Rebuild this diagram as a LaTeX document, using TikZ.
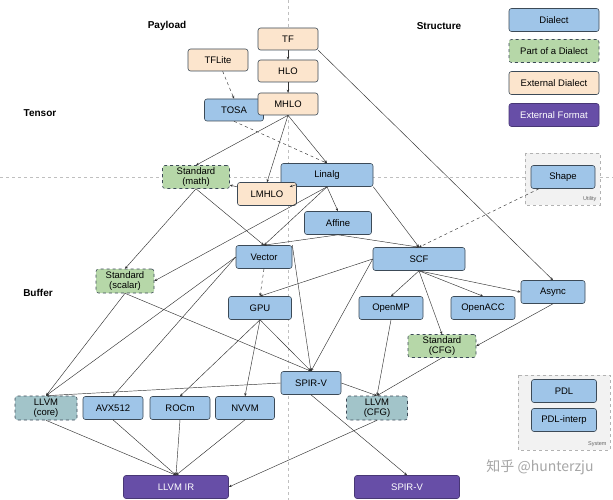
\documentclass[tikz,border=0pt]{standalone}
\usepackage{fontspec}
\setmainfont{Liberation Sans}
\newfontfamily\cjk{Noto Sans CJK SC}
\usetikzlibrary{arrows.meta}
\definecolor{dblue}{HTML}{9FC5E8}
\definecolor{dgreen}{HTML}{B6D7A8}
\definecolor{dtan}{HTML}{FCE5CD}
\definecolor{dpurple}{HTML}{674EA7}
\definecolor{dteal}{HTML}{A2C4C9}
\definecolor{bord}{HTML}{3C4A57}
\begin{document}
\begin{tikzpicture}[x=1pt,y=-1pt,
  box/.style={draw=bord,rounded corners=2.5pt,minimum height=23pt,inner sep=1pt,font=\fontsize{9.5}{10}\selectfont,align=center,line width=0.6pt},
  dia/.style={box,fill=dblue},
  part/.style={box,fill=dgreen,dashed},
  ext/.style={box,fill=dtan},
  fmt/.style={box,fill=dpurple,text=white,draw=dpurple!70!black},
  llvm/.style={box,fill=dteal,dashed},
  lab/.style={font=\bfseries\fontsize{10}{11}\selectfont},
  e/.style={-{Stealth[length=3pt,width=2.5pt]},line width=0.45pt,draw=black!80},
  de/.style={e,dashed}]
\useasboundingbox (0,0) rectangle (613,500);
\fill[white] (0,0) rectangle (613,500);
\draw[black!25,dashed,line width=0.8pt] (288,0) -- (288,500);
\draw[black!25,dashed,line width=0.8pt] (0,177) -- (613,177);
% group boxes
\draw[black!30,dashed,fill=black!5] (525,153) rectangle (600,205);
\node[font=\fontsize{5.5}{6}\selectfont,text=black!60,anchor=south east] (ul) at (600,205) {Utility};
\draw[black!30,dashed,fill=black!5] (518,375) rectangle (610,450);
\node[font=\fontsize{5.5}{6}\selectfont,text=black!60,anchor=south east] (sl) at (610,450) {System};
% labels
\node[lab] (pay) at (167,26) {Payload};
\node[lab] (str) at (439,26) {Structure};
\node[lab] (ten) at (40,113) {Tensor};
\node[lab] (buf) at (38,293) {Buffer};
% legend
\node[dia,minimum width=90pt] (l1) at (554,20) {Dialect};
\node[part,minimum width=90pt] (l2) at (554,51) {Part of a Dialect};
\node[ext,minimum width=90pt] (l3) at (554,83) {External Dialect};
\node[fmt,minimum width=90pt] (l4) at (554,115) {External Format};
% nodes
\node[ext,minimum width=60pt,minimum height=22pt] (tflite) at (218,60) {TFLite};
\node[dia,minimum width=59pt,minimum height=22pt] (tosa) at (234,110) {TOSA};
\node[ext,minimum width=60pt,minimum height=22pt] (tf) at (288,39) {TF};
\node[ext,minimum width=60pt,minimum height=22pt] (hlo) at (288,71) {HLO};
\node[ext,minimum width=60pt,minimum height=22pt] (mhlo) at (288,104) {MHLO};
\node[part,minimum width=67pt] (smath) at (196,177) {Standard\\(math)};
\node[dia,minimum width=92pt] (linalg) at (327,175) {Linalg};
\node[ext,minimum width=59pt] (lmhlo) at (267,194) {LMHLO};
\node[dia,minimum width=67pt] (affine) at (338,223) {Affine};
\node[dia,minimum width=56pt] (vector) at (264,257) {Vector};
\node[dia,minimum width=92pt] (scf) at (419,259) {SCF};
\node[part,minimum width=58pt,minimum height=24pt] (sscal) at (125,281) {Standard\\(scalar)};
\node[dia,minimum width=63pt] (gpu) at (260,308) {GPU};
\node[dia,minimum width=64pt] (omp) at (391,308) {OpenMP};
\node[dia,minimum width=64pt] (acc) at (483,308) {OpenACC};
\node[dia,minimum width=64pt] (async) at (553,292) {Async};
\node[part,minimum width=68pt] (scfg) at (442,346) {Standard\\(CFG)};
\node[dia,minimum width=60pt] (spirv) at (311,383) {SPIR-V};
\node[llvm,minimum width=62pt,minimum height=24pt] (lcore) at (46,408) {LLVM\\(core)};
\node[dia,minimum width=60pt] (avx) at (113,408) {AVX512};
\node[dia,minimum width=60pt] (rocm) at (180,408) {ROCm};
\node[dia,minimum width=59pt] (nvvm) at (245,408) {NVVM};
\node[llvm,minimum width=61pt,minimum height=24pt] (lcfg) at (377,408) {LLVM\\(CFG)};
\node[fmt,minimum width=105pt] (llvmir) at (176,487) {LLVM IR};
\node[fmt,minimum width=105pt] (spvx) at (407,487) {SPIR-V};
\node[dia,minimum width=64pt] (shape) at (563,177) {Shape};
\node[dia,minimum width=65pt] (pdl) at (564,391) {PDL};
\node[dia,minimum width=65pt] (pdli) at (564,420) {PDL-interp};
\node[text=black!35,font=\cjk\fontsize{14}{15}\selectfont] (wm) at (540,467) {知乎 @hunterzju};
% edges
\draw[e] (tf) -- (hlo);
\draw[e] (hlo) -- (mhlo);
\draw[e] (tf.south east) -- (async.north);
\draw[de] (tflite) -- (tosa.north);
\draw[de] (tosa.south) -- (linalg.north);
\draw[e] (mhlo.south) -- (smath.north);
\draw[e] (mhlo.south) -- (lmhlo.north);
\draw[e] (mhlo.south) -- (linalg.north);
\draw[e] (lmhlo) -- (smath);
\draw[e] (lmhlo) -- (linalg);
\draw[e] (linalg.south) -- (affine.north);
\draw[e] (linalg.south east) -- (scf.north);
\draw[e] (linalg.south) -- (vector.north);
\draw[e] (linalg.south) -- (sscal.east);
\draw[e] (affine.south) -- (vector.north);
\draw[e] (affine.south) -- (scf.north);
\draw[e] (smath.south) -- (vector.north);
\draw[e] (smath.south) -- (sscal.north);
\draw[de] (vector.south) -- (gpu.north);
\draw[e] (vector.north east) -- (spirv.north);
\draw[e] (vector.west) -- (lcore.north);
\draw[e] (vector.west) -- (avx.north);
\draw[e] (sscal.south) -- (lcore.north);
\draw[e] (sscal.south) -- (spirv.north);
\draw[e] (scf.west) -- (gpu.north);
\draw[e] (scf.south) -- (omp.north);
\draw[e] (scf.south) -- (acc.north);
\draw[e] (scf.south) -- (async.west);
\draw[e] (scf.south) -- (scfg.north);
\draw[e] (scf.west) -- (spirv.north);
\draw[de] (shape) -- (scf.north);
\draw[e] (gpu.south) -- (rocm.north);
\draw[e] (gpu.south) -- (nvvm.north);
\draw[e] (gpu.south) -- (spirv.north);
\draw[e] (omp.south) -- (lcfg.north);
\draw[e] (async.south) -- (scfg.east);
\draw[e] (scfg.south) -- (lcfg.north);
\draw[e] (spirv.west) -- (lcore.north);
\draw[e] (spirv.east) -- (lcfg.north);
\draw[e] (spirv.south) -- (spvx.north);
\draw[e] (lcore.south) -- (llvmir.north);
\draw[e] (avx.south) -- (llvmir.north);
\draw[e] (rocm.south) -- (llvmir.north);
\draw[e] (nvvm.south) -- (llvmir.north);
\draw[e] (lcfg.south) -- (llvmir.east);
\end{tikzpicture}
\end{document}
